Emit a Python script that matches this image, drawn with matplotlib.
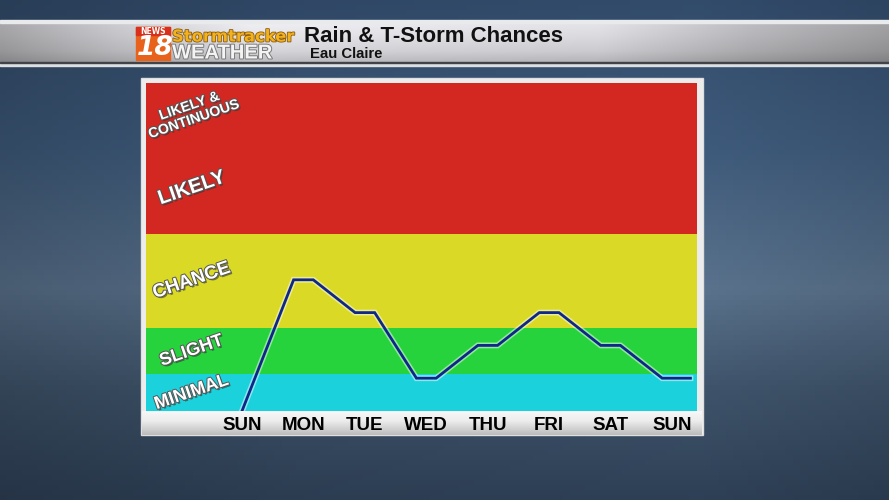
import numpy as np
import matplotlib
matplotlib.use("Agg")
import matplotlib.pyplot as plt
import matplotlib.patheffects as pe
from matplotlib.patches import Rectangle

# Rain & T-Storm chances, Eau Claire
days = ['SUN', 'MON', 'TUE', 'WED', 'THU', 'FRI', 'SAT', 'SUN']
chance = [0, 40, 30, 10, 20, 30, 20, 10]   # percent

# band edges (percent) and names
band_edges = [0, 11.3, 25.3, 54, 82, 100]
band_names = ['MINIMAL', 'SLIGHT', 'CHANCE', 'LIKELY', 'LIKELY &\nCONTINUOUS']
band_colors = ['#1bd2dc', '#26d33c', '#d9d926', '#d32822', '#d32822']
band_fsize = [13, 13, 13.6, 14.5, 10.2]

title = 'Rain & T-Storm Chances'
subtitle = 'Eau Claire'

W, H = 889, 500
fig = plt.figure(figsize=(W/100, H/100), dpi=100)

# background (pixel coords)
bg = fig.add_axes([0, 0, 1, 1])
bg.set_xlim(0, W)
bg.set_ylim(H, 0)
bg.axis('off')

yy = np.linspace(0, H, 100)
r = np.interp(yy, [0, 150, 290, 390, 500], [0x30, 0x3c, 0x56, 0x3c, 0x2c])
g = np.interp(yy, [0, 150, 290, 390, 500], [0x48, 0x57, 0x6d, 0x50, 0x3d])
b = np.interp(yy, [0, 150, 290, 390, 500], [0x66, 0x76, 0x86, 0x66, 0x52])
xx = np.linspace(0, W, 120)
shade = np.interp(xx, [0, 300, 700, 889], [0.85, 1.0, 1.05, 0.95])
img = np.stack([np.outer(r, shade), np.outer(g, shade), np.outer(b, shade)], axis=2) / 255.
bg.imshow(np.clip(img, 0, 1), extent=[0, W, H, 0], aspect='auto', zorder=0)

# banner
bx = np.linspace(0, W, 200)
bprof = np.interp(bx, [0, 120, 250, 600, 750, 889], [0.62, 0.76, 0.88, 0.84, 0.70, 0.60])
by = np.linspace(0, 1, 40)
vprof = np.interp(by, [0, 0.3, 0.7, 1], [1.06, 1.02, 0.95, 0.84])
ban = np.clip(np.outer(vprof, bprof), 0, 1)
bg.imshow(np.stack([ban, ban, ban * 1.02], axis=2).clip(0, 1), extent=[0, W, 63, 24],
          aspect='auto', zorder=1)
bg.add_patch(Rectangle((0, 20), W, 3, color='#e8eaec', zorder=2))
bg.add_patch(Rectangle((0, 63), W, 3, color='#dde0e3', zorder=2))
bg.add_patch(Rectangle((0, 62), W, 1.2, color='#404448', zorder=2))

# logo
bg.add_patch(Rectangle((136, 27), 34, 33, color='#e8621c', zorder=3))
bg.add_patch(Rectangle((136, 27), 34, 8, color='#d8301a', zorder=3))
bg.text(153, 31.5, 'NEWS', color='white', fontsize=5.5, fontweight='bold',
        ha='center', va='center', zorder=4)
bg.text(155, 48, '18', color='white', fontsize=19, fontweight='bold', style='italic',
        ha='center', va='center', zorder=4)
bg.text(172, 41.5, 'Stormtracker', color='#f2b21e', fontsize=11.8, fontweight='bold',
        ha='left', va='baseline', zorder=4,
        path_effects=[pe.withStroke(linewidth=1.2, foreground='#8a5a10')])
bg.text(172, 58.5, 'WEATHER', color='#f4f4f4', fontsize=14.5, fontweight='bold',
        family='Liberation Sans', ha='left', va='baseline', zorder=4,
        path_effects=[pe.withStroke(linewidth=1.4, foreground='#7a7a7a')])

bg.text(304, 36, title, color='#111111', fontsize=16, fontweight='bold',
        family='Liberation Sans', ha='left', va='center', zorder=4)
bg.text(310, 54, subtitle, color='#111111', fontsize=10.7, fontweight='bold',
        family='Liberation Sans', ha='left', va='center', zorder=4)

# chart panel frame
bg.add_patch(Rectangle((141, 78), 562, 357, color='#dcdcdc', zorder=2))
bg.add_patch(Rectangle((142, 79), 560, 355, color='#ececec', zorder=2))
sy = np.linspace(0, 1, 30)
strip = np.interp(sy, [0, 0.4, 1], [0.97, 0.93, 0.74])
bg.imshow(np.stack([strip, strip, strip], axis=1).reshape(30, 1, 3), extent=[142, 702, 435, 411],
          aspect='auto', zorder=3)

# chart axes over colored area
left, right, top, bottom = 146, 697, 83, 411
ax = fig.add_axes([left/W, 1 - bottom/H, (right-left)/W, (bottom-top)/H])
day_px = 61.43
ax.set_xlim((left - 242)/day_px, (right - 242)/day_px)
ax.set_ylim(0, 100)
for i in range(len(band_names)):
    ax.axhspan(band_edges[i], band_edges[i+1], color=band_colors[i], lw=0, zorder=0)

# line with day plateaus
w = 0.16
tail = 0.3
lx, ly = [0], [chance[0]]
for i in range(1, len(chance)):
    lx += [i - w, i + (tail if i == len(chance) - 1 else w)]
    ly += [chance[i], chance[i]]
ax.plot(lx, ly, color='#10278a', lw=2.0, zorder=3, solid_joinstyle='miter',
        path_effects=[pe.Stroke(linewidth=4.2, foreground='white', alpha=0.5), pe.Normal()])

for i, name in enumerate(band_names):
    mid = (band_edges[i] + band_edges[i+1]) / 2
    ax.text(-0.82, mid, name, color='white', fontsize=band_fsize[i], fontweight='bold',
            family='Liberation Sans', ha='center', va='center', rotation=19,
            linespacing=1.0, zorder=4,
            path_effects=[pe.withSimplePatchShadow(offset=(1.2, -1.2), shadow_rgbFace='#333333', alpha=0.6),
                          pe.withStroke(linewidth=1.4, foreground='#555555')])

ax.set_xticks(range(len(days)))
ax.set_xticklabels(days, fontsize=13.5, fontweight='bold', family='Liberation Sans', color='black')
ax.tick_params(axis='x', length=0, pad=4)
ax.set_yticks([])
for s in ax.spines.values():
    s.set_visible(False)

fig.savefig('out.png', dpi=100)
